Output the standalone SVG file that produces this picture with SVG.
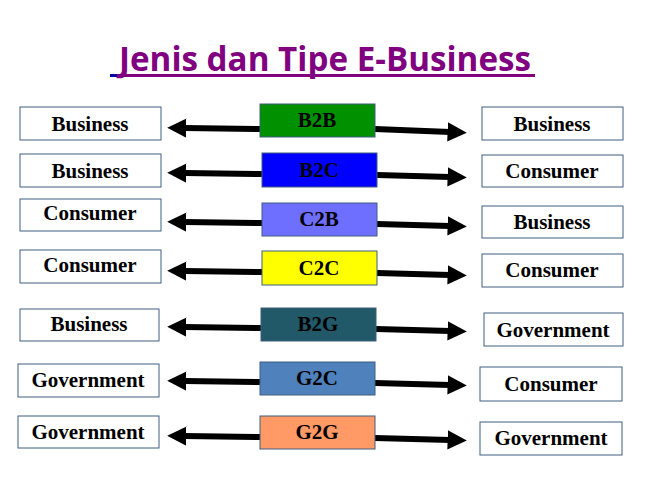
<svg xmlns="http://www.w3.org/2000/svg" width="647" height="489" viewBox="0 0 647 489">
<style>
.box{fill:#fff;stroke:#3f5f7f;stroke-width:1}
.c{stroke:#3f5f7f;stroke-width:1}
.t{font-family:"Liberation Serif",serif;font-weight:bold;font-size:21px;text-anchor:middle;fill:#000}
.ln{stroke:#000;stroke-width:6;fill:none;marker-end:url(#ah)}
</style>
<defs>
<marker id="ah" markerUnits="strokeWidth" markerWidth="4" markerHeight="4" viewBox="0 0 4 4" refX="0.4" refY="2" orient="auto">
<path d="M0,0.4 L3.2,2 L0,3.6 Z" fill="#000"/>
</marker>
</defs>
<rect width="647" height="489" fill="#fff"/>
<g id="title">
<text x="325" y="71" font-family="'Open Sans','Liberation Sans',sans-serif" font-weight="bold" font-size="34" fill="#800080" text-anchor="middle" textLength="412" lengthAdjust="spacingAndGlyphs">Jenis dan Tipe E-Business</text>
<rect x="110" y="74" width="425" height="3" fill="#800080"/>
<rect x="110" y="74" width="7" height="3" fill="#0000a0"/>
</g>
<g id="connectors">
<line class="ln" x1="260" y1="129" x2="184" y2="128"/>
<line class="ln" x1="375" y1="129" x2="450" y2="132"/>
<line class="ln" x1="262" y1="174" x2="184" y2="173"/>
<line class="ln" x1="377" y1="175" x2="450" y2="177"/>
<line class="ln" x1="262" y1="223" x2="184" y2="222"/>
<line class="ln" x1="377" y1="224" x2="450" y2="226"/>
<line class="ln" x1="262" y1="272" x2="184" y2="271"/>
<line class="ln" x1="377" y1="273" x2="450" y2="275"/>
<line class="ln" x1="261" y1="328" x2="184" y2="327"/>
<line class="ln" x1="376" y1="329" x2="450" y2="331"/>
<line class="ln" x1="260" y1="382" x2="184" y2="381"/>
<line class="ln" x1="375" y1="383" x2="450" y2="385"/>
<line class="ln" x1="260" y1="437" x2="184" y2="436"/>
<line class="ln" x1="375" y1="438" x2="450" y2="440"/>
</g>
<g id="r1l"><rect class="box" x="20" y="107" width="141" height="33"/><text class="t" x="90" y="131">Business</text></g>
<g id="r1c"><rect class="c" x="260" y="104" width="115" height="33" fill="#009000"/><text class="t" x="317" y="127">B2B</text></g>
<g id="r1r"><rect class="box" x="482" y="107" width="141" height="33"/><text class="t" x="552" y="131">Business</text></g>
<g id="r2l"><rect class="box" x="20" y="154" width="141" height="33"/><text class="t" x="90" y="178">Business</text></g>
<g id="r2c"><rect class="c" x="262" y="153" width="115" height="34" fill="#0000ff"/><text class="t" x="319" y="177">B2C</text></g>
<g id="r2r"><rect class="box" x="482" y="155" width="141" height="32"/><text class="t" x="552" y="178">Consumer</text></g>
<g id="r3l"><rect class="box" x="20" y="199" width="141" height="32"/><text class="t" x="90" y="220">Consumer</text></g>
<g id="r3c"><rect class="c" x="262" y="203" width="115" height="33" fill="#6f6fff"/><text class="t" x="319" y="226">C2B</text></g>
<g id="r3r"><rect class="box" x="482" y="206" width="141" height="32"/><text class="t" x="552" y="229">Business</text></g>
<g id="r4l"><rect class="box" x="20" y="250" width="141" height="33"/><text class="t" x="90" y="272">Consumer</text></g>
<g id="r4c"><rect class="c" x="262" y="251" width="115" height="34" fill="#ffff00"/><text class="t" x="319" y="275">C2C</text></g>
<g id="r4r"><rect class="box" x="482" y="254" width="141" height="33"/><text class="t" x="552" y="277">Consumer</text></g>
<g id="r5l"><rect class="box" x="20" y="309" width="139" height="32"/><text class="t" x="89" y="331">Business</text></g>
<g id="r5c"><rect class="c" x="261" y="308" width="115" height="33" fill="#215968"/><text class="t" x="318" y="331">B2G</text></g>
<g id="r5r"><rect class="box" x="484" y="313" width="139" height="33"/><text class="t" x="553" y="337">Government</text></g>
<g id="r6l"><rect class="box" x="18" y="364" width="141" height="33"/><text class="t" x="88" y="387">Government</text></g>
<g id="r6c"><rect class="c" x="260" y="362" width="115" height="33" fill="#4f81bd"/><text class="t" x="317" y="385">G2C</text></g>
<g id="r6r"><rect class="box" x="480" y="367" width="142" height="34"/><text class="t" x="551" y="391">Consumer</text></g>
<g id="r7l"><rect class="box" x="18" y="416" width="141" height="32"/><text class="t" x="88" y="439">Government</text></g>
<g id="r7c"><rect class="c" x="260" y="416" width="115" height="33" fill="#ff9966"/><text class="t" x="317" y="439">G2G</text></g>
<g id="r7r"><rect class="box" x="480" y="422" width="142" height="33"/><text class="t" x="551" y="445">Government</text></g>
</svg>
